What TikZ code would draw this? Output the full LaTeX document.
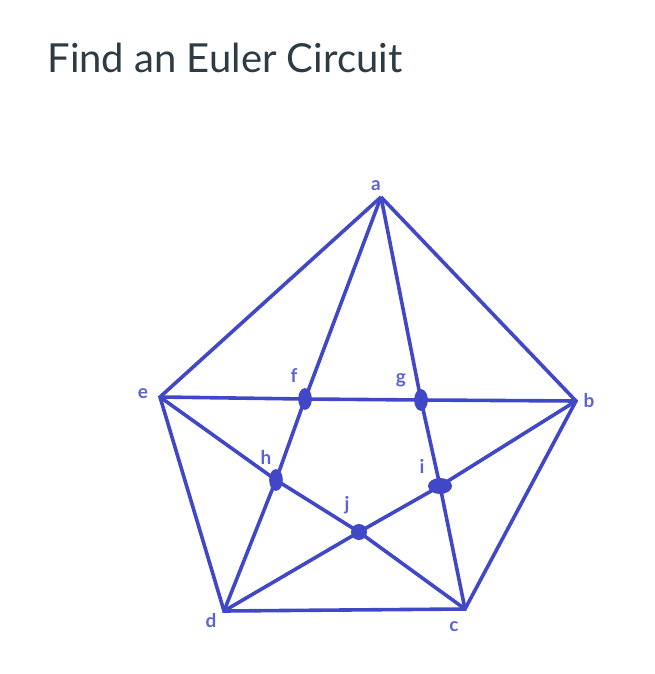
\documentclass[tikz,border=0pt]{standalone}
\usepackage{fontspec}
\setmainfont{Lato}
\usepackage{xcolor}
\definecolor{paintblue}{HTML}{4048C8}
\definecolor{titlegray}{HTML}{2D3B45}
\tikzset{
  edge/.style={paintblue, line width=1.8pt},
  lbl/.style={text=paintblue!85!white, font=\fontsize{9.5}{10}\selectfont\bfseries, inner sep=0pt}
}

\begin{document}
\begin{tikzpicture}[x=0.5pt, y=-0.5pt]
        \useasboundingbox (0,0) rectangle (654,674);
        \node[anchor=west, text=titlegray, font=\fontsize{20}{24}\selectfont, inner sep=0pt] (title) at (47,58) {Find an Euler Circuit};
        % vertices
        \coordinate (a) at (381,197);
        \coordinate (b) at (576,401);
        \coordinate (c) at (465,609);
        \coordinate (d) at (224,611);
        \coordinate (e) at (160,397);
        \coordinate (f) at (305,399);
        \coordinate (g) at (421,400);
        \coordinate (h) at (276,480);
        \coordinate (i) at (440,486);
        \coordinate (j) at (359,532);
        % outer pentagon
        \draw[edge] (a) -- (b) -- (c) -- (d) -- (e) -- (a);
        % star
        \draw[edge] (e) -- (f) -- (g) -- (b);
        \draw[edge] (a) -- (f) -- (h) -- (d);
        \draw[edge] (a) -- (g) -- (i) -- (c);
        \draw[edge] (e) -- (h) -- (j) -- (c);
        \draw[edge] (b) -- (i) -- (j) -- (d);
        % blobs
        \draw[edge, fill=paintblue] (f) ellipse (5 and 9);
        \draw[edge, fill=paintblue] (g) ellipse (5 and 9);
        \draw[edge, fill=paintblue] (h) ellipse (5 and 9);
        \fill[paintblue] (i) ellipse (12 and 8);
        \fill[paintblue] (j) circle (8);
        % labels
        \node[lbl] (la) at (376,186) {a};
        \node[lbl] (lb) at (589,401) {b};
        \node[lbl] (lc) at (454,627) {c};
        \node[lbl] (ld) at (211,621) {d};
        \node[lbl] (le) at (143,394) {e};
        \node[lbl] (lf) at (294,376) {f};
        \node[lbl] (lg) at (401,380) {g};
        \node[lbl] (lh) at (266,457) {h};
        \node[lbl] (li) at (422,466) {i};
        \node[lbl] (lj) at (347,505) {j};
\end{tikzpicture}
\end{document}
